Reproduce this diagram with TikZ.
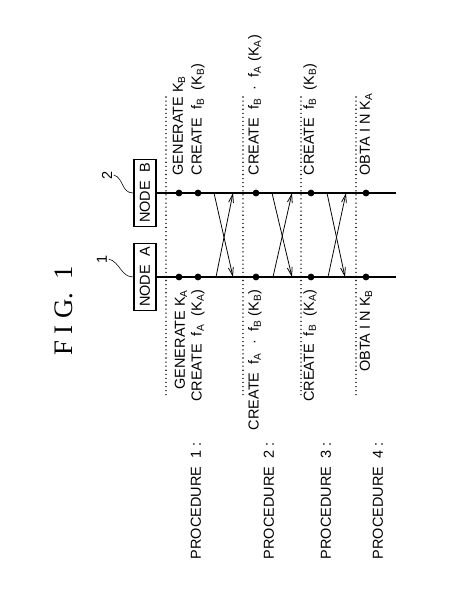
\documentclass[tikz,border=0pt]{standalone}
\usepackage{fontspec}
\setmainfont{Liberation Sans}
\newfontfamily\figfont{Liberation Serif}
\usetikzlibrary{arrows.meta}
\newcommand{\lo}[1]{\textsubscript{#1}}

\begin{document}
\begin{tikzpicture}[x=0.025cm, y=-0.025cm,
    txt/.style={rotate=90, inner sep=1pt, font=\fontsize{10.3}{12}\selectfont},
    box/.style={txt, draw, line width=1.1pt, minimum width=1.68cm, minimum height=0.55cm},
    dot/.style={circle, fill, inner sep=1.7pt},
    msg/.style={-{Straight Barb[length=6pt,width=3.5pt]}, line width=0.55pt},
    life/.style={line width=0.8pt},
    sep/.style={line width=1.1pt, line cap=round, dash pattern=on 0pt off 2.9pt}]
    \useasboundingbox (0,0) rectangle (474,607);

    \node [rotate=90, font=\figfont\fontsize{19}{21}\selectfont] (fig) at (64,311) {F\ I\ G.\ \ 1};

    \node [box] (nodeA) at (145,277) {NODE\ \ A};
    \node [box] (nodeB) at (145,193) {NODE\ \ B};
    \node [txt] (numA) at (102,259) {1};
    \node [txt] (numB) at (107,175) {2};
    \draw [thin] (numA.south) .. controls (120,262) and (121,277) .. (nodeA.north);
    \draw [thin] (numB.south) .. controls (124,178) and (121,193) .. (nodeB.north);

    \coordinate (endA) at (396,277);
    \coordinate (endB) at (396,193);
    \draw [life] (nodeA.south) -- (endA);
    \draw [life] (nodeB.south) -- (endB);

    % separators between the procedures
    \foreach \x in {166,243,301,356}
        \draw [sep] (\x,97) -- (\x,397);

    \foreach \i/\x in {1/179,2/198,3/256,4/311,5/366} {
        \node [dot] (a\i) at (\x,277) {};
        \node [dot] (b\i) at (\x,193) {};
    }

    \coordinate (up1s) at (216,277);
    \coordinate (up1e) at (233,193);
    \coordinate (dn1s) at (214,193);
    \coordinate (dn1e) at (233,277);
    \coordinate (up2s) at (273,277);
    \coordinate (up2e) at (292,193);
    \coordinate (dn2s) at (272,193);
    \coordinate (dn2e) at (292,277);
    \coordinate (up3s) at (328,277);
    \coordinate (up3e) at (346,193);
    \coordinate (dn3s) at (327,193);
    \coordinate (dn3e) at (345,277);
    \begin{scope}[msg]
        \draw (up1s) -- (up1e);
        \draw (dn1s) -- (dn1e);
        \draw (up2s) -- (up2e);
        \draw (dn2s) -- (dn2e);
        \draw (up3s) -- (up3e);
        \draw (dn3s) -- (dn3e);
    \end{scope}

    % texts on the side of node B
    \begin{scope}[every node/.style={txt, anchor=west}]
        \node (genB) at (179,177) {GENERATE\ K\lo{B}};
        \node (creB1) at (198,177) {CREATE\ \ f\lo{B}\ \ (K\lo{B})};
        \node (creB2) at (255,177) {CREATE\ \ f\lo{B}\ \ ·\ \ f\lo{A}\ (K\lo{A})};
        \node (creB3) at (310,177) {CREATE\ \ f\lo{B}\ \ (K\lo{B})};
        \node (obtB) at (366,177) {OBTA I N\ K\lo{A}};
    \end{scope}

    % texts on the side of node A
    \begin{scope}[every node/.style={txt, anchor=east}]
        \node (genA) at (181,288) {GENERATE\ K\lo{A}};
        \node (creA1) at (198,288) {CREATE\ \ f\lo{A}\ \ (K\lo{A})};
        \node (creA2) at (255,288) {CREATE\ \ f\lo{A}\ \ ·\ \ f\lo{B}\ (K\lo{B})};
        \node (creA3) at (310,288) {CREATE\ \ f\lo{B}\ \ (K\lo{A})};
        \node (obtA) at (366,288) {OBTA I N\ K\lo{B}};
    \end{scope}

    \begin{scope}[every node/.style={txt, anchor=west}]
        \node (proc1) at (196,561) {PROCEDURE\ \ 1\ :};
        \node (proc2) at (269,561) {PROCEDURE\ \ 2\ :};
        \node (proc3) at (326,561) {PROCEDURE\ \ 3\ :};
        \node (proc4) at (378,561) {PROCEDURE\ \ 4\ :};
    \end{scope}
\end{tikzpicture}
\end{document}
